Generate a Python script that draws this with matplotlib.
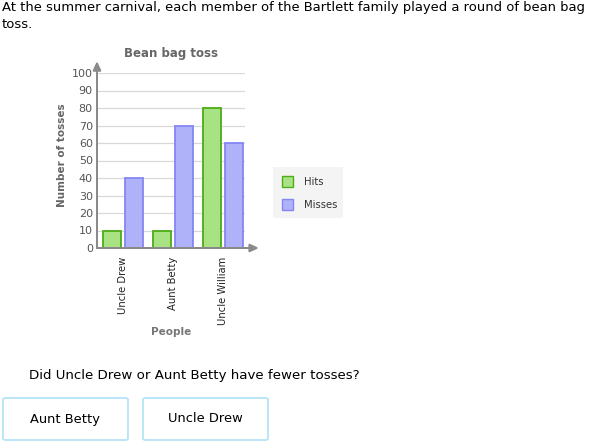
import matplotlib
matplotlib.use("Agg")
import matplotlib.pyplot as plt
from matplotlib.patches import Rectangle, FancyBboxPatch
import numpy as np

people = ["Uncle Drew", "Aunt Betty", "Uncle William"]
hits = [10, 10, 80]
misses = [40, 70, 60]
yticks = list(range(0, 101, 10))

W, H = 600, 443
fig = plt.figure(figsize=(6, 4.43), dpi=100)
fig.patch.set_facecolor("white")

def fx(px): return px / W
def fy(py): return 1 - py / H

ax = fig.add_axes([fx(97), fy(248), fx(245) - fx(97), fy(73) - fy(248)])
ax.set_xlim(-0.52, 2.44)
ax.set_ylim(0, 100)
x = np.arange(len(people))
bw = 0.36
off = 0.22
ax.bar(x - off, hits, bw, color="#a8e283", edgecolor="#4cad16", linewidth=1.3, zorder=3)
ax.bar(x + off, misses, bw, color="#b0b2f9", edgecolor="#8486f3", linewidth=1.3, zorder=3)
ax.set_yticks(yticks)
ax.yaxis.grid(True, color="#d8d8d8", linewidth=0.9, zorder=0)
ax.set_axisbelow(True)
for s in ["top", "right"]:
    ax.spines[s].set_visible(False)
for s in ["left", "bottom"]:
    ax.spines[s].set_color("#8a8a8a")
    ax.spines[s].set_linewidth(1.3)
ax.tick_params(axis="y", length=0, labelsize=8, labelcolor="#555555", pad=3)
ax.set_xticks(x)
ax.set_xticklabels(people, rotation=90, fontsize=7.2, color="#222222")
ax.tick_params(axis="x", length=0, pad=6)
ax.set_facecolor("white")

# axis arrows
fig.patches.append(matplotlib.patches.FancyArrow(fx(97), fy(248), 0, fy(63) - fy(248),
    width=0, head_width=0.012, head_length=0.018, length_includes_head=True,
    color="#8a8a8a", transform=fig.transFigure, linewidth=1.2))
fig.patches.append(matplotlib.patches.FancyArrow(fx(97), fy(248), fx(257) - fx(97), 0,
    width=0, head_width=0.016, head_length=0.013, length_includes_head=True,
    color="#8a8a8a", transform=fig.transFigure, linewidth=1.2))

fig.text(fx(171), fy(54), "Bean bag toss", ha="center", va="center", fontsize=8.5,
         fontweight="bold", color="#666666")
fig.text(fx(62), fy(155), "Number of tosses", ha="center", va="center", rotation=90,
         fontsize=7.5, fontweight="bold", color="#666666")
fig.text(fx(171), fy(332), "People", ha="center", va="center", fontsize=7.5,
         fontweight="bold", color="#777777")

# legend
fig.patches.append(Rectangle((fx(273), fy(218)), fx(343) - fx(273), fy(167) - fy(218),
                             transform=fig.transFigure, facecolor="#f4f4f4", edgecolor="none"))
fig.patches.append(Rectangle((fx(282), fy(187)), fx(11), fy(176) - fy(187),
                             transform=fig.transFigure, facecolor="#a8e283", edgecolor="#4cad16", linewidth=1))
fig.patches.append(Rectangle((fx(282), fy(210)), fx(11), fy(199) - fy(210),
                             transform=fig.transFigure, facecolor="#b0b2f9", edgecolor="#8486f3", linewidth=1))
fig.text(fx(304), fy(182), "Hits", va="center", fontsize=7.2, color="#333333")
fig.text(fx(304), fy(205), "Misses", va="center", fontsize=7.2, color="#333333")

# question text
fig.text(fx(2), fy(8), "At the summer carnival, each member of the Bartlett family played a round of bean bag",
         va="center", fontsize=9.45, color="#000000")
fig.text(fx(2), fy(25), "toss.", va="center", fontsize=9.45, color="#000000")
fig.text(fx(29), fy(375), "Did Uncle Drew or Aunt Betty have fewer tosses?", va="center",
         fontsize=9.6, color="#000000")

for (x0, x1, label) in [(3, 128, "Aunt Betty"), (143, 268, "Uncle Drew")]:
    fig.patches.append(FancyBboxPatch((fx(x0), fy(440)), fx(x1 - x0), fy(398) - fy(440),
                                      boxstyle="round,pad=0,rounding_size=0.004",
                                      transform=fig.transFigure, facecolor="white",
                                      edgecolor="#b5e3f7", linewidth=1.3))
    fig.text(fx((x0 + x1) / 2), fy(419), label, ha="center", va="center", fontsize=9.4, color="#000000")

fig.savefig("out.png", dpi=100)
